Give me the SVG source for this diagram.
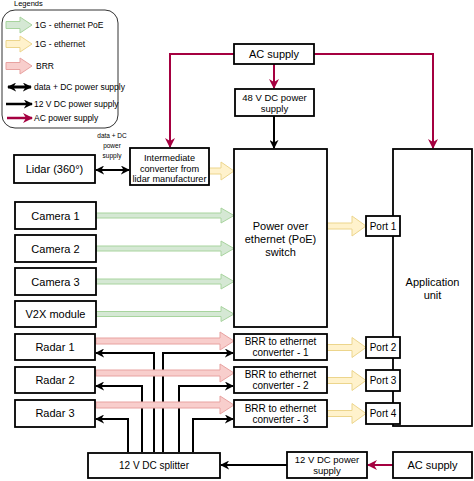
<svg xmlns="http://www.w3.org/2000/svg" width="474" height="481" viewBox="0 0 474 481">
<defs>
<style>
.box{fill:#fff;stroke:#000;stroke-width:1.8}
.t{font-family:"Liberation Sans",Arial,sans-serif;font-size:11px;fill:#000;text-anchor:middle}
.lt{font-family:"Liberation Sans",Arial,sans-serif;font-size:8.5px;fill:#000}
.blk{fill:none;stroke:#000;stroke-width:2}
.ac{fill:none;stroke:#a50040;stroke-width:2}
.g{fill:#d5e8d4;stroke:#a8d49e;stroke-width:1}
.y{fill:#fff2cc;stroke:#ecd58c;stroke-width:1}
.p{fill:#f8cecc;stroke:#e8a2a0;stroke-width:1}
</style>
<marker id="ab" viewBox="0 0 10 10" refX="9" refY="5" markerWidth="9" markerHeight="9" markerUnits="userSpaceOnUse" orient="auto">
<path d="M0,0 L10,5 L0,10 L3,5 Z" fill="#000"/>
</marker>
<marker id="abs" viewBox="0 0 10 10" refX="1" refY="5" markerWidth="9" markerHeight="9" markerUnits="userSpaceOnUse" orient="auto">
<path d="M10,0 L0,5 L10,10 L7,5 Z" fill="#000"/>
</marker>
<marker id="ar" viewBox="0 0 10 10" refX="9" refY="5" markerWidth="10" markerHeight="10" markerUnits="userSpaceOnUse" orient="auto">
<path d="M0,0 L10,5 L0,10 L3,5 Z" fill="#a50040"/>
</marker>
</defs>

<g id="legend">
<text class="lt" x="14" y="6" style="font-size:7.5px">Legends</text>
<rect x="2" y="10" width="116" height="118" rx="13" fill="#fff" stroke="#333" stroke-width="1"/>
<path class="g" d="M6,21.5 L20,21.5 L20,17 L32,25 L20,33 L20,28.5 L6,28.5 Z"/>
<text class="lt" x="35" y="28">1G - ethernet PoE</text>
<path class="y" d="M6,40.5 L20,40.5 L20,36 L32,44 L20,52 L20,47.5 L6,47.5 Z"/>
<text class="lt" x="35" y="47">1G - ethernet</text>
<path class="p" d="M6,62.5 L20,62.5 L20,58 L32,66 L20,74 L20,69.5 L6,69.5 Z"/>
<text class="lt" x="36" y="69">BRR</text>
<line x1="8" y1="87" x2="31" y2="87" stroke="#000" stroke-width="3" marker-start="url(#abs)" marker-end="url(#ab)"/>
<text class="lt" x="34" y="90">data + DC power supply</text>
<line x1="6" y1="104" x2="32" y2="104" stroke="#000" stroke-width="2.5" marker-end="url(#ab)"/>
<text class="lt" x="34" y="107">12 V DC power supply</text>
<line x1="7" y1="118" x2="32" y2="118" stroke="#a50040" stroke-width="2.5" marker-end="url(#ar)"/>
<text class="lt" x="34" y="121">AC power supply</text>
</g>

<g id="connectors">
<path class="ac" d="M234,54 H170 V147" marker-end="url(#ar)"/>
<path class="ac" d="M314,54 H433 V148" marker-end="url(#ar)"/>
<path class="ac" d="M274,64 V88" marker-end="url(#ar)"/>
<path class="ac" d="M393,465 H368" marker-end="url(#ar)"/>
<path class="blk" d="M274,116 V148" marker-end="url(#ab)"/>
<path class="blk" d="M287,465 H221" marker-end="url(#ab)"/>
<path class="blk" d="M96,170 H129" marker-start="url(#abs)" marker-end="url(#ab)" stroke-width="2.5"/>
<path class="blk" d="M154,452 V353 H96" marker-end="url(#ab)"/>
<path class="blk" d="M163,452 V353 H233" marker-end="url(#ab)"/>
<path class="blk" d="M142,452 V386 H96" marker-end="url(#ab)"/>
<path class="blk" d="M179,452 V386 H233" marker-end="url(#ab)"/>
<path class="blk" d="M128,452 V419 H96" marker-end="url(#ab)"/>
<path class="blk" d="M193,452 V419 H233" marker-end="url(#ab)"/>
<path class="g" d="M96,213 H221 V208 L234,215.5 L221,223 V218 H96 Z"/>
<path class="g" d="M96,246 H221 V241 L234,248.5 L221,256 V251 H96 Z"/>
<path class="g" d="M96,279 H221 V274 L234,281.5 L221,289 V284 H96 Z"/>
<path class="g" d="M96,311.5 H221 V306.5 L234,314 L221,321.5 V316.5 H96 Z"/>
<path class="p" d="M96,338 H220 V332 L234,341 L220,350 V344 H96 Z"/>
<path class="p" d="M96,370 H220 V364 L234,373 L220,382 V376 H96 Z"/>
<path class="p" d="M96,402 H220 V396 L234,405 L220,414 V408 H96 Z"/>
<path class="y" d="M209,168 H221 V162 L234,171 L221,180 V174 H209 Z"/>
<path class="y" d="M327,223 H352 V216 L366,226 L352,236 V229 H327 Z"/>
<path class="y" d="M327,344.5 H352 V337.5 L366,347.5 L352,357.5 V350.5 H327 Z"/>
<path class="y" d="M327,377.5 H352 V370.5 L366,380.5 L352,390.5 V383.5 H327 Z"/>
<path class="y" d="M327,410.5 H352 V403.5 L366,413.5 L352,423.5 V416.5 H327 Z"/>
</g>

<g id="ac-top"><rect class="box" x="234" y="44" width="80" height="20"/><text class="t" x="274" y="58">AC supply</text></g>
<g id="psu48"><rect class="box" x="235" y="89" width="79" height="27"/><text class="t" x="274.5" y="101" style="font-size:9.5px">48 V DC power</text><text class="t" x="274.5" y="112" style="font-size:9.5px">supply</text></g>
<g id="data-label"><text class="t" x="112" y="138" style="font-size:6.5px">data + DC</text><text class="t" x="112" y="148" style="font-size:6.5px">power</text><text class="t" x="112" y="158" style="font-size:6.5px">supply</text></g>
<g id="lidar"><rect class="box" x="14" y="155" width="81" height="28"/><text class="t" x="54.5" y="173">Lidar (360°)</text></g>
<g id="intermediate"><rect class="box" x="130" y="148" width="79" height="37"/><text class="t" x="169.5" y="161" style="font-size:9.2px">Intermediate</text><text class="t" x="169.5" y="171.5" style="font-size:9.2px">converter from</text><text class="t" x="169.5" y="182" style="font-size:9.2px">lidar manufacturer</text></g>
<g id="poe-switch"><rect class="box" x="234" y="149" width="93" height="178"/><text class="t" x="280.5" y="230">Power over</text><text class="t" x="280.5" y="243">ethernet (PoE)</text><text class="t" x="280.5" y="256">switch</text></g>
<g id="app-unit"><rect class="box" x="393" y="149" width="79" height="277"/><text class="t" x="432.5" y="286">Application</text><text class="t" x="432.5" y="299">unit</text></g>
<g id="port1"><rect class="box" x="366" y="216" width="34" height="20"/><text class="t" x="383" y="230" style="font-size:10px">Port 1</text></g>
<g id="port2"><rect class="box" x="366" y="337" width="34" height="21"/><text class="t" x="383" y="351" style="font-size:10px">Port 2</text></g>
<g id="port3"><rect class="box" x="366" y="370" width="34" height="21"/><text class="t" x="383" y="384" style="font-size:10px">Port 3</text></g>
<g id="port4"><rect class="box" x="366" y="403" width="34" height="21"/><text class="t" x="383" y="417" style="font-size:10px">Port 4</text></g>
<g id="camera1"><rect class="box" x="15" y="202" width="81" height="27"/><text class="t" x="55.5" y="219.5">Camera 1</text></g>
<g id="camera2"><rect class="box" x="15" y="235" width="81" height="27"/><text class="t" x="55.5" y="252.5">Camera 2</text></g>
<g id="camera3"><rect class="box" x="15" y="268" width="81" height="27"/><text class="t" x="55.5" y="285.5">Camera 3</text></g>
<g id="v2x"><rect class="box" x="15" y="301" width="81" height="26"/><text class="t" x="55.5" y="318">V2X module</text></g>
<g id="radar1"><rect class="box" x="15" y="334" width="80" height="26"/><text class="t" x="55" y="351">Radar 1</text></g>
<g id="radar2"><rect class="box" x="15" y="367" width="80" height="26"/><text class="t" x="55" y="384">Radar 2</text></g>
<g id="radar3"><rect class="box" x="15" y="400" width="80" height="27"/><text class="t" x="55" y="417">Radar 3</text></g>
<g id="brr1"><rect class="box" x="234" y="334" width="93" height="26"/><text class="t" x="280.5" y="345" style="font-size:10px">BRR to ethernet</text><text class="t" x="280.5" y="356" style="font-size:10px">converter - 1</text></g>
<g id="brr2"><rect class="box" x="234" y="367" width="93" height="26"/><text class="t" x="280.5" y="378" style="font-size:10px">BRR to ethernet</text><text class="t" x="280.5" y="389" style="font-size:10px">converter - 2</text></g>
<g id="brr3"><rect class="box" x="234" y="400" width="93" height="27"/><text class="t" x="280.5" y="412" style="font-size:10px">BRR to ethernet</text><text class="t" x="280.5" y="423" style="font-size:10px">converter - 3</text></g>
<g id="splitter"><rect class="box" x="88" y="453" width="132" height="25"/><text class="t" x="154" y="469" style="font-size:10px">12 V DC splitter</text></g>
<g id="psu12"><rect class="box" x="287" y="452" width="80" height="26"/><text class="t" x="327" y="463" style="font-size:9.5px">12 V DC power</text><text class="t" x="327" y="474" style="font-size:9.5px">supply</text></g>
<g id="ac-bottom"><rect class="box" x="393" y="452" width="79" height="26"/><text class="t" x="432.5" y="469">AC supply</text></g>
</svg>
